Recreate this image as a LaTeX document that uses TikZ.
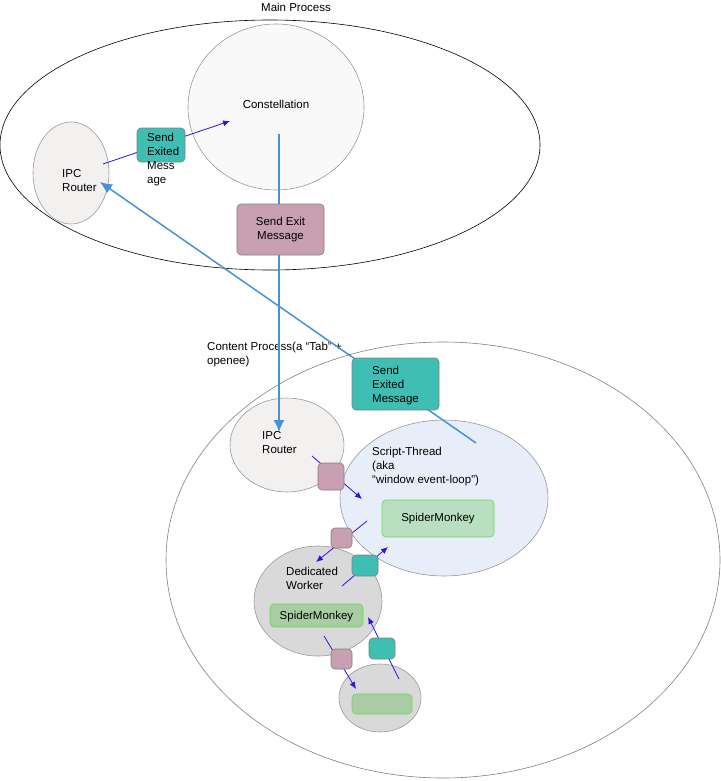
\documentclass[tikz,border=0pt]{standalone}
\usepackage{fontspec}
\setmainfont{Liberation Sans}
\usetikzlibrary{arrows.meta}
\definecolor{teal1}{HTML}{3FBFB3}
\definecolor{pink1}{HTML}{C9A0B2}
\definecolor{blue1}{HTML}{4A90D9}
\definecolor{purp}{HTML}{3311DD}
\definecolor{gbord}{HTML}{66DD44}
\definecolor{ipcf}{HTML}{F3F0F0}
\definecolor{stf}{HTML}{E8EEF9}
\definecolor{smf}{HTML}{B7DFC0}
\definecolor{smf2}{HTML}{A9CCA5}
\begin{document}
\begin{tikzpicture}[x=1pt,y=-1pt,
  every node/.style={font=\fontsize{11.5}{14}\selectfont},
  txt/.style={align=left,inner sep=0,anchor=north west},
  bub/.style={draw=gray!80,line width=0.6pt},
  tbox/.style={draw=gray,fill=teal1,rounded corners=4pt,line width=0.6pt},
  pbox/.style={draw=gray,fill=pink1,rounded corners=4pt,line width=0.6pt},
  gbox/.style={draw=gbord,rounded corners=4pt,line width=0.6pt},
  parr/.style={draw=purp,line width=0.8pt,-{Latex[length=7pt,width=6pt]}},
  barr/.style={draw=blue1,line width=1.5pt,-{Latex[length=12pt,width=11pt]}}]
\useasboundingbox (0,0) rectangle (720,781);
% main process
\draw[black,line width=0.6pt] (270,145) ellipse [x radius=270,y radius=125];
\node (mpl) at (296,7) {Main Process};
\draw[bub,fill=gray!5] (276,107) ellipse [x radius=88,y radius=83];
\node (const) at (276,104) {Constellation};
\draw[bub,fill=ipcf] (71,173) ellipse [x radius=38,y radius=51];
\node[txt] (ipc1) at (62,169) {IPC\\Router};
% content process
\draw[gray,line width=0.6pt] (443,560) ellipse [x radius=277,y radius=218];
\node[txt] (cpl) at (207,342) {Content Process(a “Tab” +\\openee)};
% IPC router 2
\draw[bub,fill=ipcf] (287,445) ellipse [x radius=57,y radius=47];
\node[txt] (ipc2) at (262,431) {IPC\\Router};
% script thread
\draw[bub,fill=stf] (444,498) ellipse [x radius=104,y radius=78];
\node[txt] (st) at (372,447) {Script-Thread\\(aka\\“window event-loop”)};
\node[gbox,fill=smf,minimum width=112pt,minimum height=37pt] (sm1) at (438,518.5) {SpiderMonkey};
% worker
\draw[bub,fill=gray!30] (318,601) ellipse [x radius=64,y radius=55];
\node[txt] (dw) at (286,567) {Dedicated\\Worker};
\node[gbox,fill=smf2,minimum width=93pt,minimum height=23pt,text depth=0pt] (sm2) at (316.5,615.5) {SpiderMonkey};
% small
\draw[bub,fill=gray!30] (380,698) ellipse [x radius=41,y radius=34];
\node[gbox,fill=smf2,minimum width=60pt,minimum height=20pt] (sm3) at (382,704) {};
% blue connectors
\coordinate (bs) at (279,134);
\coordinate (be) at (279,432);
\draw[barr] (bs) -- (be);
\coordinate (b2s) at (476,443);
\coordinate (b2e) at (100,182);
\draw[barr] (b2s) -- (b2e);
\node[pbox,minimum width=87pt,minimum height=51pt,align=center] (sem) at (280.5,229.5) {Send Exit\\Message};
\node[tbox,minimum width=87pt,minimum height=52pt] (sem2) at (395.5,384) {};
\node[txt] (sem2t) at (372,366) {Send\\Exited\\Message};
% top purple
\coordinate (c1s) at (103,164);
\coordinate (c1e) at (230,121);
\draw[parr] (c1s) -- (c1e);
\node[tbox,minimum width=48pt,minimum height=34pt] (sem1) at (161,145) {};
\node[txt] (sem1t) at (147,133) {Send\\Exited\\Mess\\age};
% arrows + small boxes
\coordinate (a1s) at (312,456); \coordinate (a1e) at (362,499);
\draw[parr] (a1s) -- (a1e);
\node[pbox,minimum width=26pt,minimum height=27pt] (p1) at (331,476.5) {};
\coordinate (a2s) at (367,521); \coordinate (a2e) at (316,562);
\draw[parr] (a2s) -- (a2e);
\node[pbox,minimum width=21pt,minimum height=20pt] (p2) at (341.5,538) {};
\coordinate (a3s) at (342,586); \coordinate (a3e) at (388,547);
\draw[parr] (a3s) -- (a3e);
\node[tbox,minimum width=26pt,minimum height=21pt] (t3) at (365,565.5) {};
\coordinate (a4s) at (324,636); \coordinate (a4e) at (356,689);
\draw[parr] (a4s) -- (a4e);
\node[pbox,minimum width=21pt,minimum height=20pt] (p4) at (341.5,659) {};
\coordinate (a5s) at (399,679); \coordinate (a5e) at (368,617);
\draw[parr] (a5s) -- (a5e);
\node[tbox,minimum width=26pt,minimum height=21pt] (t5) at (382,648.5) {};
\end{tikzpicture}
\end{document}
